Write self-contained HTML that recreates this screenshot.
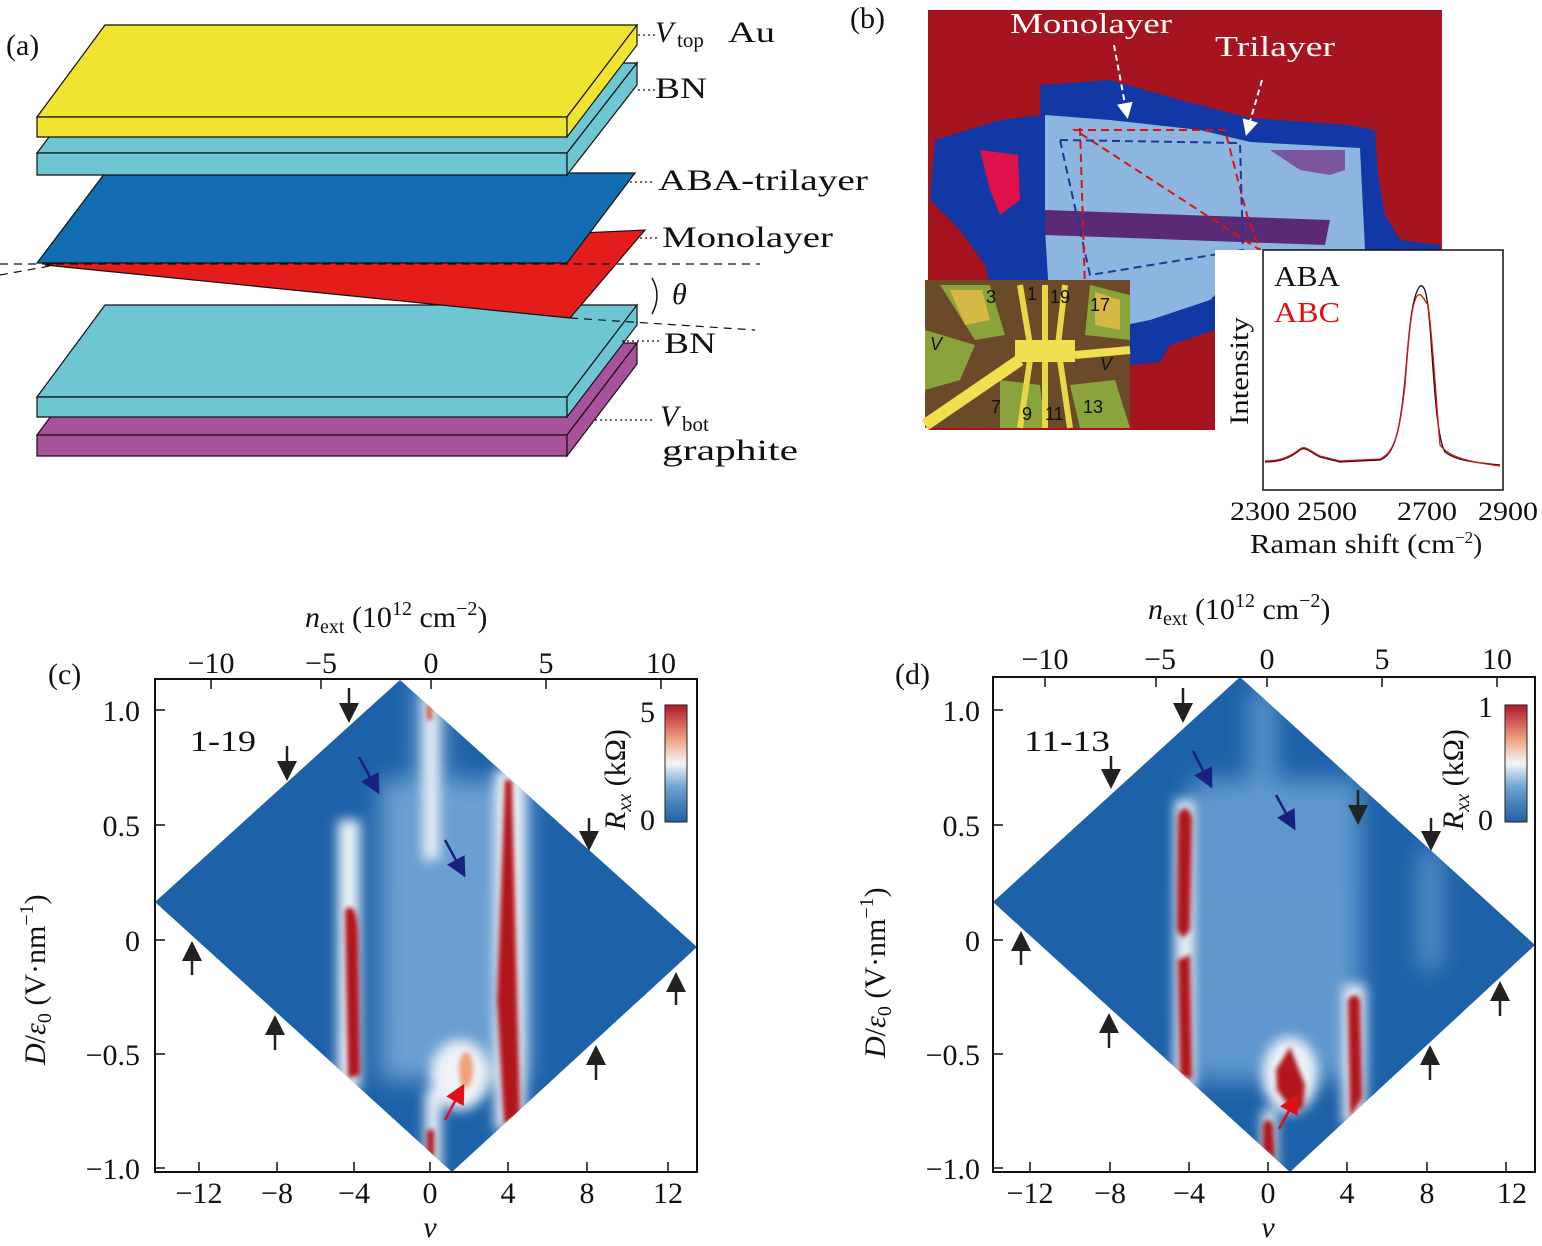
<!DOCTYPE html>
<html><head><meta charset="utf-8"><style>
html,body{margin:0;padding:0;background:#fff}
svg{display:block}
text{font-family:"Liberation Serif",serif;fill:#111}
</style></head><body>
<svg width="1542" height="1246" viewBox="0 0 1542 1246" xmlns="http://www.w3.org/2000/svg">
<defs>
<filter id="b6" x="-50%" y="-50%" width="200%" height="200%"><feGaussianBlur stdDeviation="6"/></filter>
<filter id="b3" x="-50%" y="-50%" width="200%" height="200%"><feGaussianBlur stdDeviation="2.5"/></filter>
<filter id="b12" x="-50%" y="-50%" width="200%" height="200%"><feGaussianBlur stdDeviation="12"/></filter>
<clipPath id="dc"><polygon points="155,902 400,680 697,947 452,1172"/></clipPath>
<clipPath id="dd"><polygon points="993,902 1240,677 1535,945 1290,1172"/></clipPath>
<linearGradient id="cb" x1="0" y1="1" x2="0" y2="0">
<stop offset="0" stop-color="#1f5fa5"/><stop offset="0.3" stop-color="#6fa3d0"/><stop offset="0.5" stop-color="#f6f6f6"/><stop offset="0.7" stop-color="#f0a585"/><stop offset="1" stop-color="#b0182a"/></linearGradient>
<marker id="ah" markerWidth="8" markerHeight="8" refX="6" refY="4" orient="auto"><path d="M0,0 L8,4 L0,8 z" fill="#222"/></marker>
<marker id="ahb" markerWidth="8" markerHeight="8" refX="6" refY="4" orient="auto"><path d="M0,0 L8,4 L0,8 z" fill="#1a2080"/></marker>
<marker id="ahr" markerWidth="8" markerHeight="8" refX="6" refY="4" orient="auto"><path d="M0,0 L8,4 L0,8 z" fill="#e0101a"/></marker>
<marker id="ahw" markerWidth="8" markerHeight="8" refX="6" refY="4" orient="auto"><path d="M0,0 L8,4 L0,8 z" fill="#fff"/></marker>
</defs>

<!-- Panel a -->
<text x="6" y="55" font-size="30">(a)</text>
<g stroke="#111" stroke-width="1.2">
<polygon points="37,435 105,343 637,343 567,435" fill="#a8529c"/>
<polygon points="37,435 567,435 567,456 37,456" fill="#a8529c"/>
<polygon points="567,435 637,343 637,364 567,456" fill="#a8529c"/>
<polygon points="37,397 105,305 637,305 567,397" fill="#6ec6d2"/>
<polygon points="37,397 567,397 567,417 37,417" fill="#6ec6d2"/>
<polygon points="567,397 637,305 637,325 567,417" fill="#6ec6d2"/>
<polygon points="45,265 110,255 645,230 570,318" fill="#e41c1c"/>
<polygon points="37,263 105,173 635,173 567,263" fill="#116cb2"/>
<polygon points="37,153 105,63 637,63 567,153" fill="#6ec6d2"/>
<polygon points="37,153 567,153 567,175 37,175" fill="#6ec6d2"/>
<polygon points="567,153 637,63 637,85 567,175" fill="#6ec6d2"/>
<polygon points="37,117 105,25 637,25 567,117" fill="#f0e431"/>
<polygon points="37,117 567,117 567,137 37,137" fill="#f0e431"/>
<polygon points="567,117 637,25 637,45 567,137" fill="#f0e431"/>
</g>
<g stroke="#111" stroke-width="1.2" stroke-dasharray="8,6" fill="none">
<line x1="0" y1="264" x2="760" y2="264"/>
<line x1="0" y1="275" x2="50" y2="266"/>
<line x1="570" y1="318" x2="755" y2="330"/>
</g>
<g stroke="#111" stroke-width="1.2" stroke-dasharray="2,3">
<line x1="638" y1="35" x2="655" y2="35"/>
<line x1="638" y1="90" x2="655" y2="90"/>
<line x1="630" y1="182" x2="655" y2="182"/>
<line x1="640" y1="238" x2="658" y2="238"/>
<line x1="622" y1="341" x2="660" y2="341"/>
<line x1="595" y1="420" x2="655" y2="420"/>
</g>
<path d="M652,278 Q662,295 652,314" stroke="#111" stroke-width="1.5" fill="none"/>
<text x="655" y="42" font-size="30" font-style="italic">V</text><text x="677" y="47" font-size="21">top</text><text x="728" y="42" font-size="30" textLength="47" lengthAdjust="spacingAndGlyphs">Au</text>
<text x="655" y="98" font-size="30" textLength="52" lengthAdjust="spacingAndGlyphs">BN</text>
<text x="658" y="190" font-size="30" textLength="210" lengthAdjust="spacingAndGlyphs">ABA-trilayer</text>
<text x="662" y="247" font-size="30" textLength="171" lengthAdjust="spacingAndGlyphs">Monolayer</text>
<text x="672" y="304" font-size="30" font-style="italic">θ</text>
<text x="664" y="353" font-size="30" textLength="52" lengthAdjust="spacingAndGlyphs">BN</text>
<text x="660" y="426" font-size="30" font-style="italic">V</text><text x="682" y="431" font-size="21">bot</text>
<text x="662" y="460" font-size="30" textLength="136" lengthAdjust="spacingAndGlyphs">graphite</text>

<!-- Panel b -->
<text x="850" y="28" font-size="30">(b)</text>
<rect x="928" y="10" width="514" height="420" fill="#a5141f"/>
<polygon points="1040,85 1110,80 1180,100 1250,118 1350,125 1375,130 1378,175 1385,215 1400,240 1440,245 1440,255 1290,252 1215,255 1215,330 1170,345 1160,362 1130,365 1000,330 985,265 960,230 930,200 935,140 1000,120 1040,115" fill="#1238a5"/>
<polygon points="1045,115 1110,120 1200,130 1250,142 1360,148 1365,250 1290,250 1250,260 1210,300 1150,320 1100,330 1050,310 1045,230" fill="#8cb6e0"/>
<polygon points="1045,210 1330,220 1325,245 1045,235" fill="#5a2a78"/>
<polygon points="1270,150 1345,150 1345,170 1330,175 1300,170 1285,160" fill="#7b55a0"/>
<polygon points="980,150 1018,155 1020,200 1000,215 990,190" fill="#e0104a"/>
<polygon points="1075,130 1225,130 1247,215 1260,250" fill="none" stroke="#e01010" stroke-width="2" stroke-dasharray="8,5"/>
<polygon points="1060,140 1240,143 1243,250 1090,275" fill="none" stroke="#1a3a9a" stroke-width="2" stroke-dasharray="8,5"/>
<line x1="1080" y1="128" x2="1085" y2="290" stroke="#e01010" stroke-width="2" stroke-dasharray="8,5"/>
<line x1="1114" y1="45" x2="1127" y2="115" stroke="#fff" stroke-width="2" stroke-dasharray="6,4" marker-end="url(#ahw)"/>
<line x1="1262" y1="80" x2="1247" y2="132" stroke="#fff" stroke-width="2" stroke-dasharray="6,4" marker-end="url(#ahw)"/>
<text x="1010" y="33" font-size="28" textLength="162" lengthAdjust="spacingAndGlyphs" style="fill:#fff">Monolayer</text>
<text x="1215" y="56" font-size="28" textLength="120" lengthAdjust="spacingAndGlyphs" style="fill:#fff">Trilayer</text>
<!-- device inset -->
<rect x="925" y="280" width="205" height="148" fill="#6b4a2a"/>
<g fill="#8aa33a">
<polygon points="940,285 990,285 1005,335 975,340"/>
<polygon points="1090,285 1130,295 1130,340 1085,335"/>
<polygon points="925,330 975,345 960,380 925,390"/>
<polygon points="1000,380 1040,385 1045,428 1000,428"/>
<polygon points="1070,385 1115,380 1130,428 1080,428"/>
</g>
<g fill="#d6b845">
<polygon points="950,290 982,290 990,320 965,325"/>
<polygon points="1095,292 1120,300 1120,330 1095,325"/>
</g>
<g stroke="#e8d848" stroke-width="6">
<line x1="1020" y1="285" x2="1030" y2="345"/>
<line x1="1045" y1="285" x2="1045" y2="345"/>
<line x1="1065" y1="285" x2="1058" y2="345"/>
<line x1="1030" y1="360" x2="1020" y2="428"/>
<line x1="1045" y1="360" x2="1045" y2="428"/>
<line x1="1060" y1="360" x2="1070" y2="428"/>
</g>
<rect x="1015" y="340" width="60" height="22" fill="#f0e050"/>
<line x1="925" y1="425" x2="1020" y2="360" stroke="#f0e050" stroke-width="12"/>
<line x1="1075" y1="355" x2="1130" y2="350" stroke="#f0e050" stroke-width="8"/>
<g font-size="18">
<text x="986" y="303" style="font-family:'Liberation Sans',sans-serif">3</text>
<text x="1027" y="300" style="font-family:'Liberation Sans',sans-serif">1</text>
<text x="1050" y="303" style="font-family:'Liberation Sans',sans-serif">19</text>
<text x="1090" y="311" style="font-family:'Liberation Sans',sans-serif">17</text>
<text x="991" y="413" style="font-family:'Liberation Sans',sans-serif">7</text>
<text x="1022" y="420" style="font-family:'Liberation Sans',sans-serif">9</text>
<text x="1045" y="420" style="font-family:'Liberation Sans',sans-serif">11</text>
<text x="1083" y="413" style="font-family:'Liberation Sans',sans-serif">13</text>
<text x="930" y="350" style="font-family:'Liberation Sans',sans-serif;font-style:italic">V</text>
<text x="1100" y="370" style="font-family:'Liberation Sans',sans-serif;font-style:italic">V</text>
</g>
<!-- Raman inset -->
<rect x="1215" y="250" width="292" height="255" fill="#fff"/>
<rect x="1263" y="250" width="240" height="240" fill="none" stroke="#111" stroke-width="1.5"/>
<path d="M1265,462 C1280,462 1290,458 1300,450 C1305,446 1310,452 1320,457 L1340,462 L1380,460 C1395,455 1400,430 1405,380 C1409,330 1412,295 1420,286 C1426,284 1428,300 1431,340 C1435,400 1438,440 1445,452 C1455,460 1470,462 1500,465" fill="none" stroke="#111" stroke-width="1.3"/>
<path d="M1265,461 C1280,461 1290,457 1300,449 C1305,445 1310,451 1320,456 L1340,461 L1380,459 C1395,453 1400,430 1405,385 C1409,330 1412,300 1418,295 C1422,293 1424,300 1428,305 C1432,330 1436,400 1440,445 C1450,458 1470,462 1500,466" fill="none" stroke="#e01010" stroke-width="1.3"/>
<text x="1274" y="286" font-size="28" textLength="66" lengthAdjust="spacingAndGlyphs">ABA</text>
<text x="1274" y="322" font-size="28" textLength="66" lengthAdjust="spacingAndGlyphs" style="fill:#e01010">ABC</text>
<text transform="translate(1248,425) rotate(-90)" font-size="26" textLength="108" lengthAdjust="spacingAndGlyphs">Intensity</text>
<g font-size="26"><text x="1230" y="520" textLength="60" lengthAdjust="spacingAndGlyphs">2300</text><text x="1297" y="520" textLength="60" lengthAdjust="spacingAndGlyphs">2500</text><text x="1397" y="520" textLength="60" lengthAdjust="spacingAndGlyphs">2700</text><text x="1478" y="520" textLength="60" lengthAdjust="spacingAndGlyphs">2900</text></g>
<text x="1250" y="553" font-size="27"><tspan textLength="205" lengthAdjust="spacingAndGlyphs">Raman shift (cm</tspan><tspan font-size="17" dy="-10">−2</tspan><tspan dy="10">)</tspan></text>

<!-- Panel c -->
<text x="48" y="684" font-size="30">(c)</text>
<g clip-path="url(#dc)">
<rect x="150" y="670" width="560" height="510" fill="#1d62a8"/>
<g filter="url(#b12)" fill="#7fb0da" opacity="0.8">
<rect x="380" y="780" width="150" height="300"/>
<rect x="415" y="680" width="30" height="120"/>
</g>
<g filter="url(#b6)" fill="#eef3f8">
<rect x="338" y="820" width="22" height="270"/>
<rect x="495" y="770" width="30" height="360"/>
<rect x="423" y="690" width="16" height="170"/>
<ellipse cx="460" cy="1075" rx="30" ry="35"/>
<rect x="425" y="1090" width="16" height="80"/>
</g>
<g filter="url(#b3)">
<path d="M345,910 Q356,900 358,930 L360,1075 L348,1078 Z" fill="#b0141f"/>
<path d="M505,780 L512,780 L520,1115 L504,1125 L497,1000 Z" fill="#b0141f"/>
<ellipse cx="466" cy="1070" rx="7" ry="18" fill="#f0a07a"/>
<rect x="427" y="1130" width="7" height="30" fill="#b0141f"/>
<rect x="427" y="704" width="5" height="16" fill="#d8503a"/>
</g>
</g>
<rect x="155" y="679" width="542" height="493" fill="none" stroke="#111" stroke-width="2"/>
<rect x="665" y="705" width="22" height="117" fill="url(#cb)" stroke="#222"/>
<text x="640" y="722" font-size="30">5</text><text x="640" y="830" font-size="30">0</text>
<text transform="translate(625,830) rotate(-90)" font-size="30"><tspan font-style="italic">R</tspan><tspan font-size="20" font-style="italic" dy="6">xx</tspan><tspan dy="-6"> (kΩ)</tspan></text>
<text x="190" y="751" font-size="30" textLength="66" lengthAdjust="spacingAndGlyphs">1-19</text>
<g stroke="#222" stroke-width="2.5" marker-end="url(#ah)">
<line x1="349" y1="688" x2="349" y2="718"/><line x1="287" y1="746" x2="287" y2="776"/>
<line x1="589" y1="818" x2="589" y2="846"/>
<line x1="192" y1="975" x2="192" y2="946"/><line x1="275" y1="1050" x2="275" y2="1020"/>
<line x1="596" y1="1080" x2="596" y2="1050"/><line x1="676" y1="1005" x2="676" y2="977"/>
</g>
<g stroke="#1a2080" stroke-width="2.5" marker-end="url(#ahb)"><line x1="359" y1="757" x2="377" y2="790"/><line x1="445" y1="840" x2="463" y2="873"/></g>
<line x1="445" y1="1120" x2="462" y2="1088" stroke="#e0101a" stroke-width="2.5" marker-end="url(#ahr)"/>
<g stroke="#111" stroke-width="1.5">
<path d="M199,1172v-10M277,1172v-10M354,1172v-10M430,1172v-10M508,1172v-10M587,1172v-10M668,1172v-10"/>
<path d="M211,679v10M321,679v10M431,679v10M546,679v10M661,679v10"/>
<path d="M155,710h10M155,825h10M155,940h10M155,1054h10M155,1168h10"/>
</g>
<g font-size="30" text-anchor="middle">
<text x="199" y="1203">−12</text><text x="277" y="1203">−8</text><text x="354" y="1203">−4</text><text x="430" y="1203">0</text><text x="508" y="1203">4</text><text x="587" y="1203">8</text><text x="668" y="1203">12</text>
<text x="211" y="673">−10</text><text x="321" y="673">−5</text><text x="431" y="673">0</text><text x="546" y="673">5</text><text x="661" y="673">10</text>
</g>
<g font-size="30" text-anchor="end">
<text x="140" y="721">1.0</text><text x="140" y="836">0.5</text><text x="140" y="951">0</text><text x="140" y="1065">−0.5</text><text x="140" y="1179">−1.0</text>
</g>
<text x="430" y="1237" font-size="30" font-style="italic" text-anchor="middle">v</text>
<text x="305" y="627" font-size="30"><tspan font-style="italic">n</tspan><tspan font-size="20" dy="6">ext</tspan><tspan dy="-6">  (10</tspan><tspan font-size="20" dy="-12">12</tspan><tspan dy="12"> cm</tspan><tspan font-size="20" dy="-12">−2</tspan><tspan dy="12">)</tspan></text>
<text transform="translate(45,1065) rotate(-90)" font-size="30"><tspan font-style="italic">D</tspan>/<tspan font-style="italic">ε</tspan><tspan font-size="20" dy="6">0</tspan><tspan dy="-6"> (V·nm</tspan><tspan font-size="20" dy="-12">−1</tspan><tspan dy="12">)</tspan></text>

<!-- Panel d -->
<text x="895" y="684" font-size="30">(d)</text>
<g clip-path="url(#dd)">
<rect x="990" y="670" width="550" height="510" fill="#1d62a8"/>
<g filter="url(#b12)" fill="#6fa6d6" opacity="0.8">
<rect x="1190" y="780" width="170" height="300"/>
<rect x="1250" y="690" width="25" height="120"/>
<rect x="1420" y="850" width="20" height="120"/>
</g>
<g filter="url(#b6)" fill="#eef3f8">
<rect x="1175" y="800" width="20" height="290"/>
<ellipse cx="1290" cy="1075" rx="28" ry="38"/>
<rect x="1343" y="985" width="22" height="140"/>
<rect x="1262" y="1110" width="14" height="60"/>
</g>
<g filter="url(#b3)">
<path d="M1178,815 Q1186,800 1192,818 L1190,930 L1183,938 L1177,930 Z" fill="#b0141f"/>
<path d="M1178,960 L1190,955 L1192,1080 L1180,1075 Z" fill="#b0141f"/>
<path d="M1290,1047 L1305,1085 L1303,1108 L1293,1112 L1277,1090 L1276,1070 Z" fill="#b0141f"/>
<path d="M1348,1000 Q1355,990 1360,1000 L1362,1098 L1350,1118 Z" fill="#b0141f"/>
<path d="M1263,1125 Q1268,1115 1273,1125 L1275,1160 L1263,1150 Z" fill="#b0141f"/>
</g>
</g>
<rect x="993" y="677" width="542" height="495" fill="none" stroke="#111" stroke-width="2"/>
<rect x="1505" y="705" width="22" height="117" fill="url(#cb)" stroke="#222"/>
<text x="1478" y="717" font-size="30">1</text><text x="1478" y="830" font-size="30">0</text>
<text transform="translate(1463,830) rotate(-90)" font-size="30"><tspan font-style="italic">R</tspan><tspan font-size="20" font-style="italic" dy="6">xx</tspan><tspan dy="-6"> (kΩ)</tspan></text>
<text x="1024" y="751" font-size="30" textLength="86" lengthAdjust="spacingAndGlyphs">11-13</text>
<g stroke="#222" stroke-width="2.5" marker-end="url(#ah)">
<line x1="1183" y1="688" x2="1183" y2="718"/><line x1="1111" y1="756" x2="1111" y2="784"/>
<line x1="1358" y1="790" x2="1358" y2="820"/><line x1="1431" y1="818" x2="1431" y2="846"/>
<line x1="1021" y1="965" x2="1021" y2="936"/><line x1="1109" y1="1048" x2="1109" y2="1018"/>
<line x1="1430" y1="1080" x2="1430" y2="1050"/><line x1="1500" y1="1016" x2="1500" y2="986"/>
</g>
<g stroke="#1a2080" stroke-width="2.5" marker-end="url(#ahb)"><line x1="1193" y1="751" x2="1210" y2="784"/><line x1="1276" y1="795" x2="1293" y2="826"/></g>
<line x1="1279" y1="1129" x2="1296" y2="1098" stroke="#e0101a" stroke-width="2.5" marker-end="url(#ahr)"/>
<g stroke="#111" stroke-width="1.5">
<path d="M1030,1172v-10M1110,1172v-10M1189,1172v-10M1268,1172v-10M1347,1172v-10M1427,1172v-10M1506,1172v-10"/>
<path d="M1045,677v10M1156,677v10M1267,677v10M1382,677v10M1497,677v10"/>
<path d="M993,710h10M993,825h10M993,940h10M993,1054h10M993,1168h10"/>
</g>
<g font-size="30" text-anchor="middle">
<text x="1030" y="1203">−12</text><text x="1110" y="1203">−8</text><text x="1189" y="1203">−4</text><text x="1268" y="1203">0</text><text x="1347" y="1203">4</text><text x="1427" y="1203">8</text><text x="1512" y="1203">12</text>
<text x="1045" y="669">−10</text><text x="1160" y="669">−5</text><text x="1267" y="669">0</text><text x="1382" y="669">5</text><text x="1497" y="669">10</text>
</g>
<g font-size="30" text-anchor="end">
<text x="980" y="721">1.0</text><text x="980" y="836">0.5</text><text x="980" y="951">0</text><text x="980" y="1065">−0.5</text><text x="980" y="1179">−1.0</text>
</g>
<text x="1268" y="1237" font-size="30" font-style="italic" text-anchor="middle">v</text>
<text x="1148" y="619" font-size="30"><tspan font-style="italic">n</tspan><tspan font-size="20" dy="6">ext</tspan><tspan dy="-6">  (10</tspan><tspan font-size="20" dy="-12">12</tspan><tspan dy="12"> cm</tspan><tspan font-size="20" dy="-12">−2</tspan><tspan dy="12">)</tspan></text>
<text transform="translate(885,1058) rotate(-90)" font-size="30"><tspan font-style="italic">D</tspan>/<tspan font-style="italic">ε</tspan><tspan font-size="20" dy="6">0</tspan><tspan dy="-6"> (V·nm</tspan><tspan font-size="20" dy="-12">−1</tspan><tspan dy="12">)</tspan></text>
</svg>
</body></html>
